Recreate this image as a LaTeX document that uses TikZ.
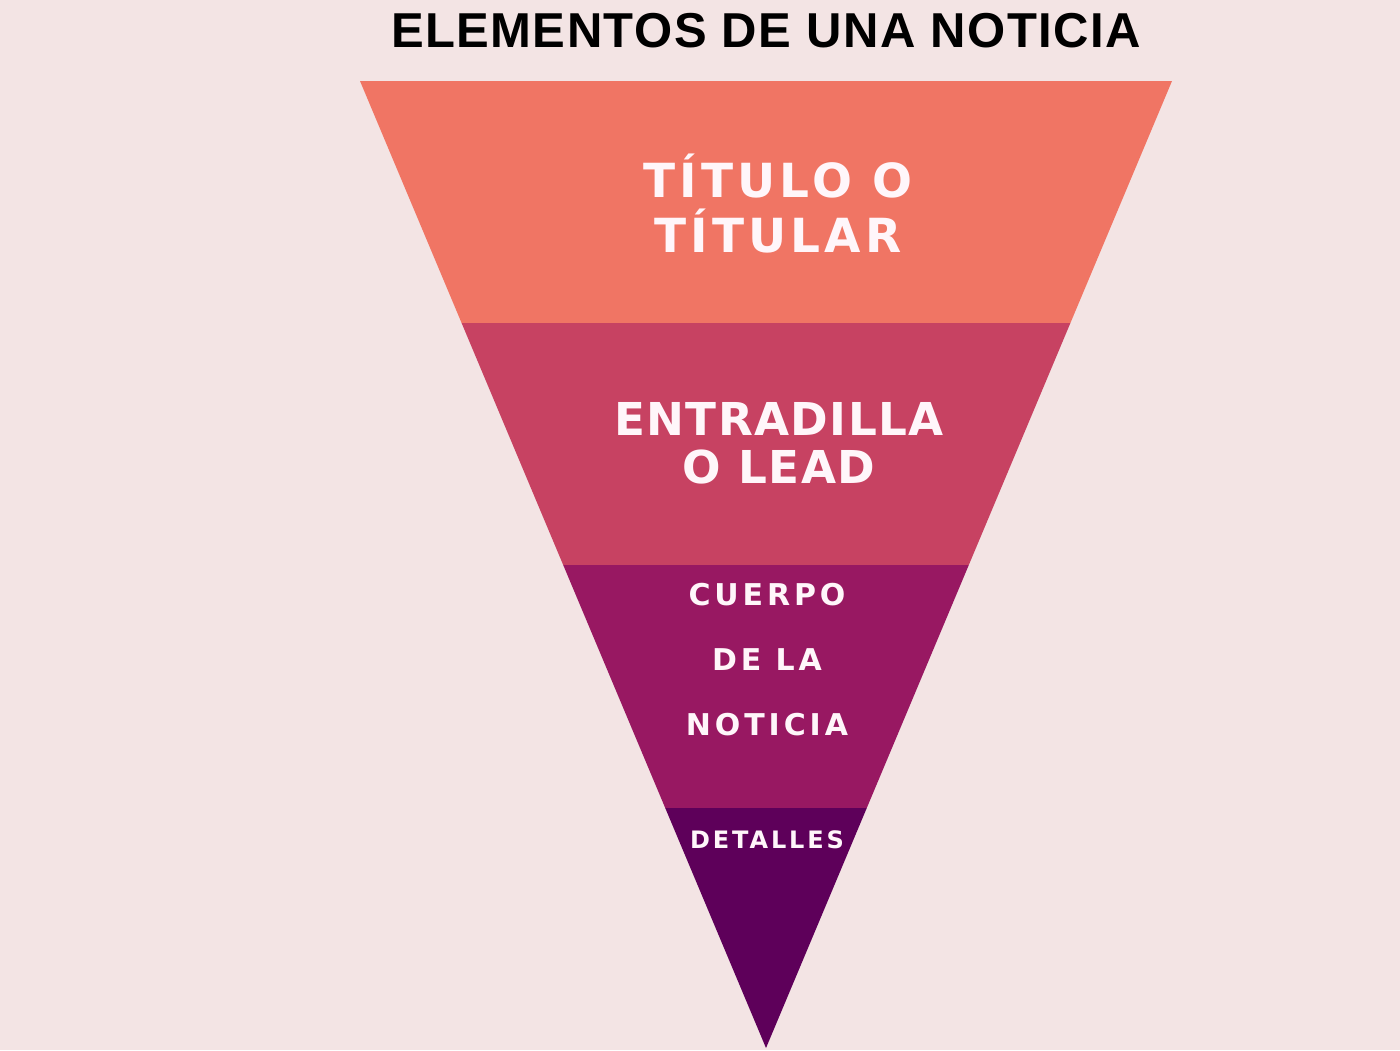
\documentclass[tikz,border=0pt]{standalone}
\usepackage{fontspec}
\setmainfont{Liberation Sans}
\newfontfamily\bandfont{DejaVu Sans}

\definecolor{bgpink}{HTML}{F3E4E4}
\definecolor{txtwhite}{HTML}{FFF6FA}
\definecolor{bandA}{HTML}{F07564}
\definecolor{bandB}{HTML}{C74262}
\definecolor{bandC}{HTML}{981862}
\definecolor{bandD}{HTML}{5E005A}

\tikzset{
  bandtext/.style 2 args={text=txtwhite, inner sep=0pt, anchor=base,
    font={\bandfont\bfseries\fontsize{#1}{#1}\selectfont\addfontfeature{LetterSpace=#2}}}
}

\begin{document}
\begin{tikzpicture}[x=1pt,y=-1pt]

  \fill[bgpink] (0,0) rectangle (1400,1050);

  \foreach \y [count=\i] in {81,323,565,808,1048}
  {
    \pgfmathsetmacro\dx{(\y-81)/967*406}
    \coordinate (L\i) at (360+\dx,\y);
    \coordinate (R\i) at (1172-\dx,\y);
  }

  \foreach \col [count=\i] in {bandA,bandB,bandC}
  {
    \pgfmathtruncatemacro\next{\i+1}
    \fill[\col] (L\i) -- (R\i) -- (R\next) -- (L\next) -- cycle;
  }
  \fill[bandD] (L4) -- (R4) -- (L5) -- cycle;

  \node[anchor=base, inner sep=0pt, font=\bfseries\fontsize{49}{49}\selectfont\addfontfeature{LetterSpace=3}] (title) at (766,47) {ELEMENTOS DE UNA NOTICIA};

  \foreach \txt/\yy [count=\i] in {TÍTULO O/197, TÍTULAR/252}
    \node[bandtext={47}{9}] (titular\i) at (778,\yy) {\txt};
  \foreach \txt/\yy [count=\i] in {ENTRADILLA/435, O LEAD/483}
    \node[bandtext={45.3}{3}] (lead\i) at (779,\yy) {\txt};
  \foreach \txt/\yy [count=\i] in {CUERPO/605, DE LA/670, NOTICIA/735}
    \node[bandtext={30}{13}] (cuerpo\i) at (767,\yy) {\txt};
  \node[bandtext={24}{12}] (detalles) at (767,848) {DETALLES};

\end{tikzpicture}
\end{document}
